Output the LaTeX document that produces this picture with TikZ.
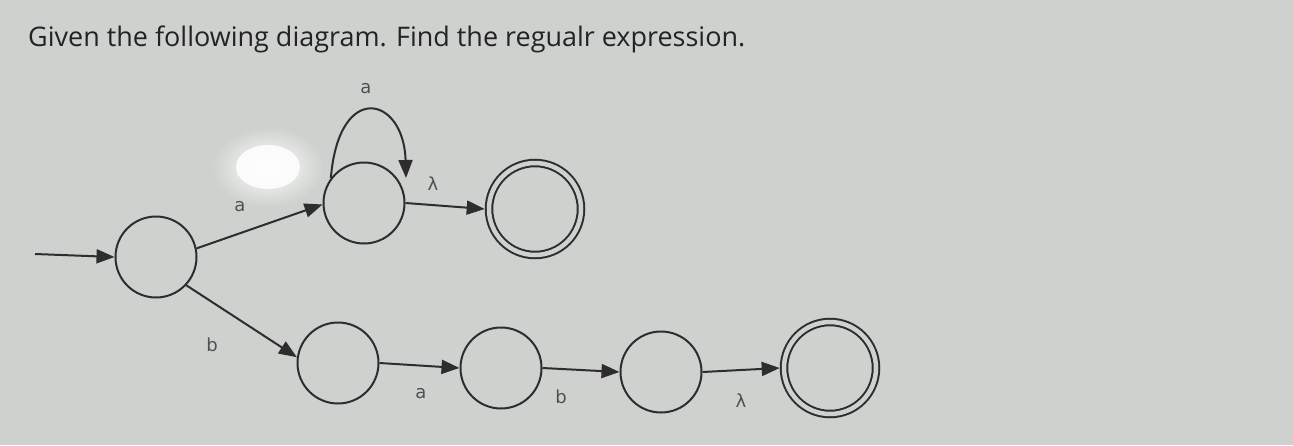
\documentclass[tikz,border=0pt]{standalone}
\usepackage{fontspec}
\setmainfont{Open Sans}
\newfontfamily\lblfont{DejaVu Sans}
\usetikzlibrary{arrows.meta}
\definecolor{bgcol}{RGB}{206,209,206}
\definecolor{inkcol}{RGB}{45,45,48}
\definecolor{lblcol}{RGB}{80,80,84}
\definecolor{titlecol}{RGB}{35,35,38}
\tikzset{
  st/.style={circle, draw=inkcol, line width=2pt, minimum size=81pt, inner sep=0pt},
  acc/.style={circle, draw=inkcol, line width=2pt, double=bgcol, double distance=4.5pt, minimum size=92pt, inner sep=0pt, outer sep=4.3pt},
  tr/.style={draw=inkcol, line width=2pt, -{Triangle[length=18pt,width=14pt]}},
  lbl/.style={font=\lblfont\fontsize{18}{20}\selectfont, text=lblcol, inner sep=0pt},
}
\begin{document}
\begin{tikzpicture}[x=1pt,y=-1pt]
\fill[bgcol] (0,0) rectangle (1293,445);
\useasboundingbox (0,0) rectangle (1293,445);
% glare
\shade[inner color=white, outer color=bgcol] (268,167) ellipse (56 and 40);
\fill[white, opacity=0.85] (268,167) ellipse (32 and 22);
% title
\node[anchor=base west, inner sep=0pt, text=titlecol] (title) at (28,46)
  {\resizebox{717pt}{!}{\fontsize{27}{32}\selectfont Given the following diagram. Find the regualr expression.}};
% states
\node[st] (q0) at (156,257) {};
\node[st] (q1) at (364,203) {};
\node[acc] (f1) at (535,209) {};
\node[st] (q2) at (338,363) {};
\node[st] (q3) at (501,368) {};
\node[st] (q4) at (661,372) {};
\node[acc] (f2) at (830,368) {};
\coordinate (start) at (35,254);
\coordinate (loopend) at (406,178);
% transitions
\draw[tr] (start) -- (q0.west);
\draw[tr] (q0.12) -- (q1.182);
\draw[tr] (q0.-43) -- (q2.172);
\draw[tr] (q1.143) .. controls +(8,-98) and +(-2,-82) .. (loopend);
\draw[tr] (q1.east) -- (f1.west);
\draw[tr] (q2.east) -- (q3.west);
\draw[tr] (q3.east) -- (q4.west);
\draw[tr] (q4.east) -- (f2.west);
% labels
\node[lbl] (la1) at (240,207) {a};
\node[lbl] (la2) at (366,89) {a};
\node[lbl] (ll1) at (433,184) {λ};
\node[lbl] (lb1) at (212,345) {b};
\node[lbl] (la3) at (421,394) {a};
\node[lbl] (lb2) at (561,397) {b};
\node[lbl] (ll2) at (741,401) {λ};
\end{tikzpicture}
\end{document}
